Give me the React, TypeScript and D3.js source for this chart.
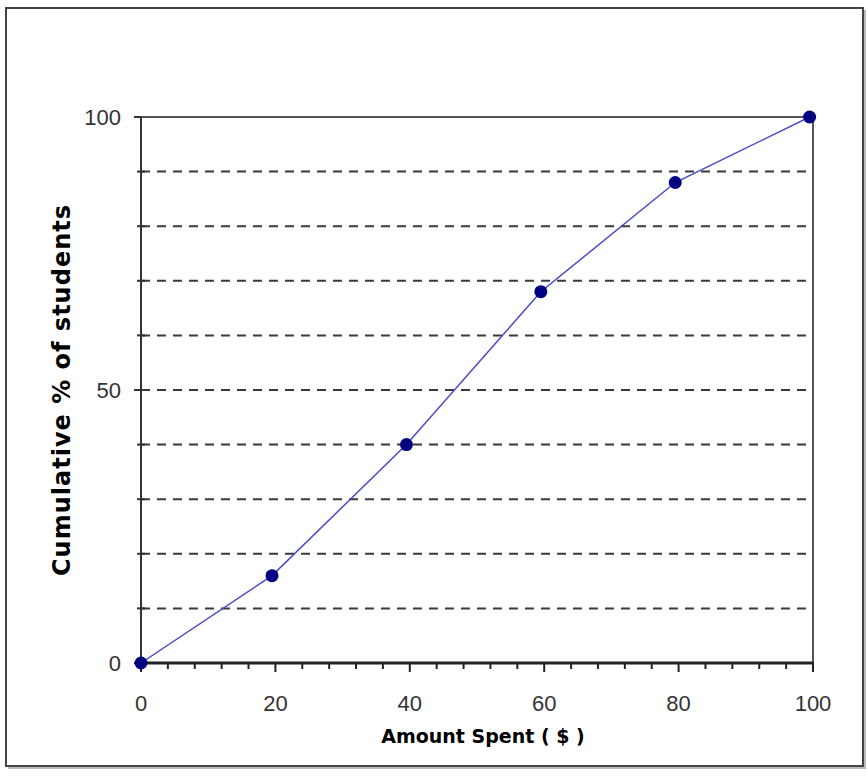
import React, { useEffect, useRef } from 'react';
import * as d3 from 'd3';

// upper class boundaries of amount spent, and cumulative % of students
const amountSpent: number[] = [0, 19.5, 39.5, 59.5, 79.5, 99.5];
const cumulativePct: number[] = [0, 16, 40, 68, 88, 100];

const xTickLabels: number[] = [0, 20, 40, 60, 80, 100];
const yTickLabels: number[] = [0, 50, 100];
const yGridValues: number[] = [10, 20, 30, 40, 50, 60, 70, 80, 90];

const App: React.FC = () => {
  const svgRef = useRef<SVGSVGElement>(null);

  useEffect(() => {
    if (!svgRef.current) return;

    const width = 868;
    const height = 781;
    const plot = { left: 141, top: 117, right: 813, bottom: 663 };

    d3.select(svgRef.current).selectAll('*').remove();

    const svg = d3
      .select(svgRef.current)
      .attr('width', width)
      .attr('height', height);

    // outer chart frame
    svg.append('rect')
      .attr('x', 8)
      .attr('y', 10)
      .attr('width', 858)
      .attr('height', 759)
      .attr('fill', '#bbb');
    svg.append('rect')
      .attr('x', 6)
      .attr('y', 8)
      .attr('width', 857)
      .attr('height', 758)
      .attr('fill', '#fff')
      .attr('stroke', '#444')
      .attr('stroke-width', 2);

    const xScale = d3.scaleLinear().domain([0, 100]).range([plot.left, plot.right]);
    const yScale = d3.scaleLinear().domain([0, 100]).range([plot.bottom, plot.top]);

    // dashed gridlines
    svg.append('g')
      .selectAll('line')
      .data(yGridValues)
      .enter()
      .append('line')
      .attr('x1', plot.left)
      .attr('x2', plot.right)
      .attr('y1', d => yScale(d))
      .attr('y2', d => yScale(d))
      .attr('stroke', '#3a3a3a')
      .attr('stroke-width', 2)
      .attr('stroke-dasharray', '9,7');

    // plot area border (top and right)
    svg.append('path')
      .attr('d', `M${plot.left},${plot.top}H${plot.right}V${plot.bottom}`)
      .attr('fill', 'none')
      .attr('stroke', '#555')
      .attr('stroke-width', 2);

    // Y axis
    svg.append('line')
      .attr('x1', plot.left)
      .attr('x2', plot.left)
      .attr('y1', plot.top)
      .attr('y2', plot.bottom)
      .attr('stroke', '#333')
      .attr('stroke-width', 2);

    svg.append('g')
      .selectAll('line')
      .data(d3.range(0, 101, 10))
      .enter()
      .append('line')
      .attr('x1', d => (d % 50 === 0 ? plot.left - 7 : plot.left - 4))
      .attr('x2', d => (d % 50 === 0 ? plot.left : plot.left + 4))
      .attr('y1', d => yScale(d))
      .attr('y2', d => yScale(d))
      .attr('stroke', '#333')
      .attr('stroke-width', 2);

    svg.append('g')
      .selectAll('text')
      .data(yTickLabels)
      .enter()
      .append('text')
      .attr('x', 121)
      .attr('y', d => yScale(d) + 8)
      .attr('text-anchor', 'end')
      .style('font-family', '"Liberation Sans", Arial, sans-serif')
      .style('font-size', '22px')
      .attr('fill', '#333')
      .text(d => d);

    // X axis
    svg.append('line')
      .attr('x1', plot.left - 1)
      .attr('x2', plot.right + 1)
      .attr('y1', plot.bottom)
      .attr('y2', plot.bottom)
      .attr('stroke', '#222')
      .attr('stroke-width', 3);

    svg.append('g')
      .selectAll('line')
      .data(d3.range(0, 101, 4))
      .enter()
      .append('line')
      .attr('x1', d => xScale(d))
      .attr('x2', d => xScale(d))
      .attr('y1', plot.bottom)
      .attr('y2', d => (d % 20 === 0 ? plot.bottom + 9 : plot.bottom + 6))
      .attr('stroke', '#222')
      .attr('stroke-width', 2);

    svg.append('g')
      .selectAll('text')
      .data(xTickLabels)
      .enter()
      .append('text')
      .attr('x', d => xScale(d))
      .attr('y', 711)
      .attr('text-anchor', 'middle')
      .style('font-family', '"Liberation Sans", Arial, sans-serif')
      .style('font-size', '22px')
      .attr('fill', '#333')
      .text(d => d);

    // series line and markers
    const points = amountSpent.map((x, i) => ({ x, y: cumulativePct[i] }));
    const line = d3.line<{ x: number; y: number }>()
      .x(d => xScale(d.x))
      .y(d => yScale(d.y));

    svg.append('path')
      .datum(points)
      .attr('d', line)
      .attr('fill', 'none')
      .attr('stroke', '#4a4ac8')
      .attr('stroke-width', 1.5);

    svg.append('g')
      .selectAll('circle')
      .data(points)
      .enter()
      .append('circle')
      .attr('cx', d => xScale(d.x))
      .attr('cy', d => yScale(d.y))
      .attr('r', 6.5)
      .attr('fill', '#000080');

    // axis titles
    svg.append('text')
      .attr('x', 483)
      .attr('y', 743)
      .attr('text-anchor', 'middle')
      .style('font-family', '"DejaVu Sans", Verdana, sans-serif')
      .style('font-weight', 'bold')
      .style('font-size', '19px')
      .attr('fill', '#000')
      .text('Amount Spent ( $ )');

    svg.append('text')
      .attr('transform', `translate(70, ${(plot.top + plot.bottom) / 2}) rotate(-90)`)
      .attr('text-anchor', 'middle')
      .style('font-family', '"DejaVu Sans", Verdana, sans-serif')
      .style('font-weight', 'bold')
      .style('font-size', '24px')
      .style('letter-spacing', '1px')
      .attr('fill', '#000')
      .text('Cumulative % of students');
  }, []);

  return (
    <div style={{ position: 'absolute', left: 0, top: 0 }}>
      <svg ref={svgRef}></svg>
    </div>
  );
};

export default App;
